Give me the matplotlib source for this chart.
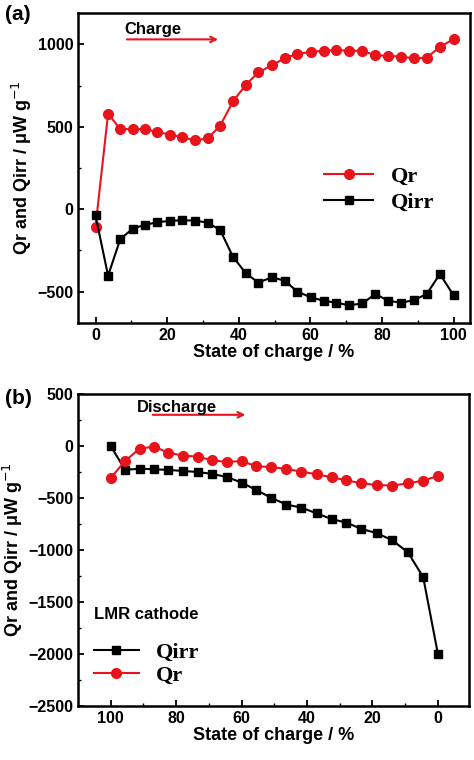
import matplotlib
matplotlib.use("Agg")
import matplotlib.pyplot as plt

xa = [0,3.5,6.9,10.4,13.8,17.2,20.7,24.2,27.7,31.3,34.8,38.4,42,45.5,49.2,52.8,56.4,60.1,63.7,67.3,70.9,74.5,78.2,81.7,85.4,89,92.5,96.2,100]
qr_a = [-105,579,486,486,486,468,453,437,417,429,506,654,755,830,872,915,943,953,962,964,962,960,933,931,925,915,919,984,1032]
qirr_a = [-38,-403,-182,-117,-95,-79,-71,-67,-69,-81,-126,-289,-389,-445,-413,-433,-500,-534,-555,-567,-583,-571,-514,-555,-567,-551,-514,-393,-522]

xb = [100,95.6,91.2,86.8,82.4,77.9,73.4,68.9,64.5,60,55.5,50.9,46.3,41.8,37.1,32.4,28,23.4,18.6,14,9.2,4.5,0]
qirr_b = [0,-230,-218,-224,-230,-240,-250,-269,-298,-352,-423,-499,-563,-592,-647,-704,-736,-797,-839,-906,-1021,-1261,-2000]
qr_b = [-307,-144,-26,-6,-64,-93,-102,-138,-154,-144,-195,-202,-221,-246,-272,-301,-330,-359,-375,-381,-359,-333,-288]

plt.rcParams['font.family'] = ['Liberation Sans', 'DejaVu Sans']
W, H = 474, 760
fig = plt.figure(figsize=(W/100, H/100), dpi=100)
ax1 = fig.add_axes([78/W, 1-323/H, 392/W, 310/H])
ax2 = fig.add_axes([78/W, 1-706/H, 391/W, 312/H])

lab = dict(fontsize=13, fontweight='bold')
for ax in (ax1, ax2):
    for s in ax.spines.values():
        s.set_linewidth(1.8)
    ax.tick_params(direction='in', width=1.3, length=4, labelsize=11.5)
    ax.tick_params(which='minor', direction='in', width=1, length=2.5)

red = '#e8141c'
ax1.plot(xa, qr_a, '-o', color=red, ms=7, lw=1.5, label='Qr')
ax1.plot(xa, qirr_a, '-s', color='black', ms=6, lw=1.5, label='Qirr')
ax1.set_xlim(-4.9, 104.6); ax1.set_ylim(-690, 1190)
ax1.set_xticks([0,20,40,60,80,100]); ax1.set_yticks([-500,0,500,1000])
ax1.set_xticks(range(10,100,20), minor=True); ax1.set_yticks([-250,250,750], minor=True)
ax1.set_xlabel('State of charge / %', labelpad=1, **lab)
ax1.set_ylabel('Qr and Qirr / μW g$^{-1}$', labelpad=2, **lab)
ax1.annotate('', xy=(35, 1030), xytext=(8, 1030), arrowprops=dict(arrowstyle='->', color=red, lw=1.5))
ax1.text(8, 1060, 'Charge', fontsize=12, fontweight='bold')
ax1.legend(loc='center right', bbox_to_anchor=(0.96, 0.43), frameon=False,
           prop=dict(family='Liberation Serif', weight='bold', size=16), handlelength=2.2,
           labelspacing=0.25)
fig.text(5/W, 1-20/H, '(a)', fontsize=15, fontweight='bold')

ax2.plot(xb, qirr_b, '-s', color='black', ms=6, lw=1.5, label='Qirr')
ax2.plot(xb, qr_b, '-o', color=red, ms=7, lw=1.5, label='Qr')
ax2.set_xlim(110, -9.5); ax2.set_ylim(-2500, 500)
ax2.set_xticks([100,80,60,40,20,0]); ax2.set_yticks(range(-2500,501,500))
ax2.set_xticks(range(90,0,-20), minor=True); ax2.set_yticks(range(-2250,500,500), minor=True)
ax2.set_xlabel('State of charge / %', labelpad=1, **lab)
ax2.set_ylabel('Qr and Qirr / μW g$^{-1}$', labelpad=2, **lab)
ax2.annotate('', xy=(58, 300), xytext=(88, 300), arrowprops=dict(arrowstyle='->', color=red, lw=1.5))
ax2.text(92, 330, 'Discharge', fontsize=12, fontweight='bold')
ax2.text(105, -1660, 'LMR cathode', fontsize=12, fontweight='bold')
ax2.legend(loc='lower left', bbox_to_anchor=(-0.01, 0.0), frameon=False,
           prop=dict(family='Liberation Serif', weight='bold', size=16), handlelength=2.0,
           labelspacing=0.1)
fig.text(5/W, 1-404/H, '(b)', fontsize=15, fontweight='bold')
for ax in (ax1, ax2):
    for l in ax.get_xticklabels() + ax.get_yticklabels():
        l.set_fontweight('bold')

fig.savefig('out.png', dpi=100)
